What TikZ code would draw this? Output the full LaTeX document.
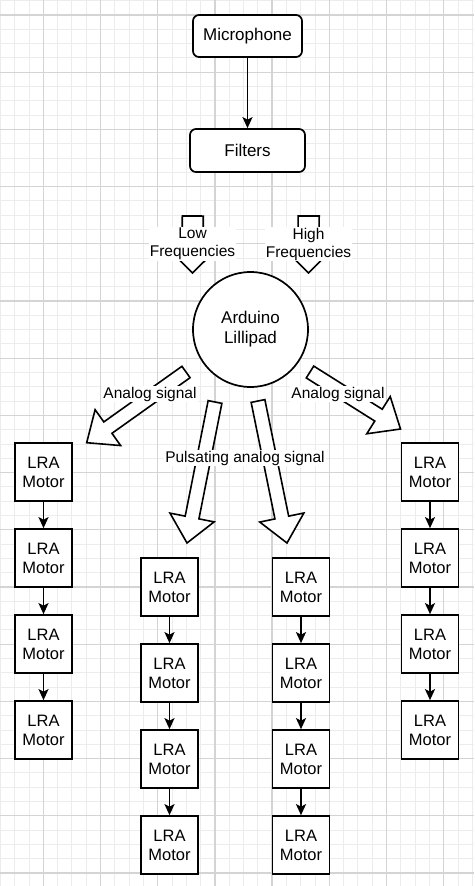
\documentclass[tikz,border=0pt]{standalone}
\usepackage{fontspec}
\setmainfont{Liberation Sans}
\usetikzlibrary{arrows.meta,calc}
\definecolor{gmajor}{HTML}{D4D4D4}
\definecolor{gminor}{HTML}{ECECEC}
\tikzset{
  box/.style={draw, line width=1.7pt, fill=white, minimum width=57pt, minimum height=58pt, inner sep=0pt, align=center, font=\fontsize{16.5}{19}\selectfont},
  rbox/.style={draw, line width=1.7pt, fill=white, rounded corners=6pt, inner sep=0pt, align=center, font=\fontsize{17}{20}\selectfont},
  lbl/.style={fill=white, inner sep=1pt, align=center, font=\fontsize{15.5}{18}\selectfont},
  barrow/.style={draw, line width=1.6pt, fill=white, line join=miter},
  conn/.style={draw, line width=1.7pt, -{Stealth[length=11pt,width=10pt,inset=2.5pt]}}
}
\newcommand\blockarrow[5]{%
  \coordinate (#1base) at ($(#2)!#5!(#1)$);
  \draw[barrow] ($(#1)!#3!90:(#2)$) -- ($(#1base)!#3!-90:(#1)$) -- ($(#1base)!#4!-90:(#1)$) -- (#2) -- ($(#1base)!#4!90:(#1)$) -- ($(#1base)!#3!90:(#1)$) -- ($(#1)!#3!-90:(#2)$) -- cycle;}
\begin{document}
\begin{tikzpicture}[x=1pt,y=-1pt]
\useasboundingbox (0,0) rectangle (474,886);
\fill[white] (0,0) rectangle (474,886);
% grid
\foreach \i in {0,...,33} {\draw[gminor, line width=1pt] ({0.4+14.3*\i},0) -- ++(0,886);}
\foreach \i in {0,...,62} {\draw[gminor, line width=1pt] (0,{0.7+14.3*\i}) -- ++(474,0);}
\foreach \i in {0,...,7} {\draw[gmajor, line width=1.3pt] ({43.3+57.2*\i},0) -- ++(0,886);}
\foreach \i in {0,...,15} {\draw[gmajor, line width=1.3pt] (0,{15+57.2*\i}) -- ++(474,0);}

% top nodes
\node[rbox, minimum width=109pt, minimum height=42pt] (mic) at (247.5,36) {Microphone};
\node[rbox, minimum width=115pt, minimum height=43pt] (filt) at (247.5,150.5) {Filters};
\draw[conn] (mic) -- (filt);

\node[circle, draw, line width=1.7pt, fill=white, minimum size=115pt, inner sep=0pt, align=center, font=\fontsize{17}{20}\selectfont] (ard) at (250.5,329.5) {Arduino\\Lillipad};

% block arrows
\coordinate (lowT) at (192.8,216);  \coordinate (lowH) at (192.5,273);
\coordinate (highT) at (308.7,216); \coordinate (highH) at (308.5,273);
\coordinate (alT) at (186,372);     \coordinate (alH) at (86.7,442.7);
\coordinate (arT) at (310,372);     \coordinate (arH) at (400.5,429);
\coordinate (plT) at (215,402);     \coordinate (plH) at (187,543);
\coordinate (prT) at (258,401);     \coordinate (prH) at (287,543);
\blockarrow{lowT}{lowH}{10.5pt}{22pt}{22pt}
\blockarrow{highT}{highH}{10.5pt}{22pt}{22pt}
\blockarrow{alT}{alH}{7pt}{22pt}{26pt}
\blockarrow{arT}{arH}{7pt}{22pt}{26pt}
\blockarrow{plT}{plH}{7pt}{22.5pt}{26pt}
\blockarrow{prT}{prH}{7pt}{22.5pt}{26pt}

\node[lbl] (lowL) at (192.5,244) {Low\\Frequencies};
\node[lbl] (highL) at (308.5,244) {High\\Frequencies};
\node[lbl] (alL) at (150,394) {Analog signal};
\node[lbl] (arL) at (338,394) {Analog signal};
\node[lbl] (pL) at (245,458) {Pulsating analog signal};

% LRA motor columns
\foreach \c/\x/\y in {a/43.5/472, b/169.5/587, c/301/587, d/430/472} {
  \foreach \k in {1,...,4} {
    \node[box] (\c\k) at (\x,{\y+86*(\k-1)}) {LRA\\Motor};
  }
  \draw[conn] (\c1) -- (\c2);
  \draw[conn] (\c2) -- (\c3);
  \draw[conn] (\c3) -- (\c4);
}
\end{tikzpicture}
\end{document}
